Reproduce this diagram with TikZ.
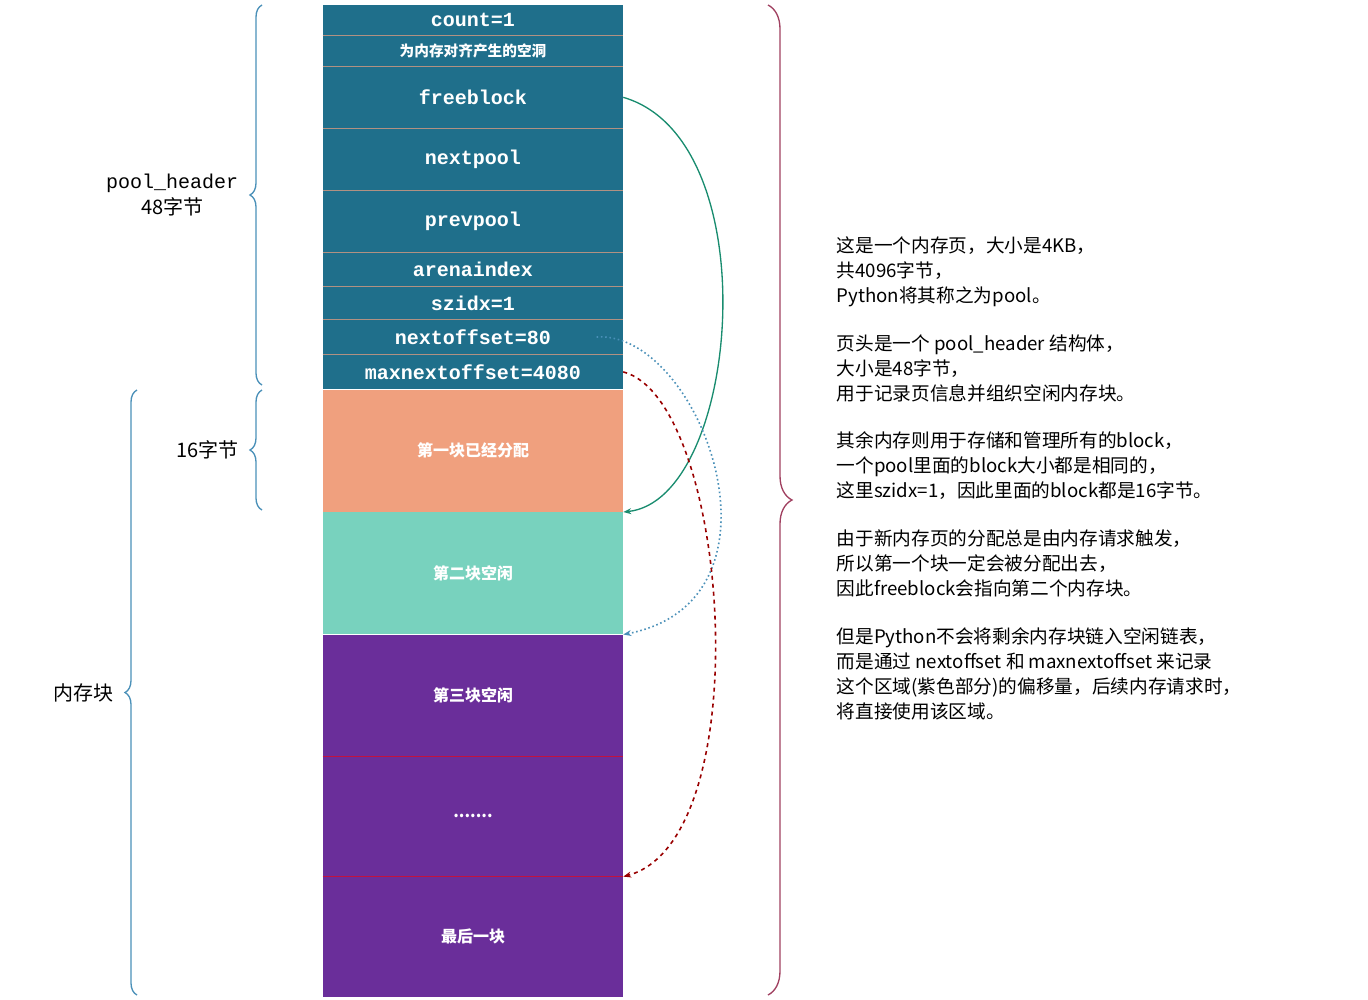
\documentclass[tikz,border=0pt]{standalone}
\usepackage{fontspec}
\setmainfont{Noto Sans CJK SC}
\newfontfamily\cjk{Noto Sans CJK SC}
\newfontfamily\monofont{Liberation Mono}
\usetikzlibrary{arrows.meta,decorations.pathreplacing,positioning}
\definecolor{headblue}{HTML}{1F6F8B}
\definecolor{orangeblk}{HTML}{F0A07E}
\definecolor{greenblk}{HTML}{78D2BE}
\definecolor{purpleblk}{HTML}{6A2E9A}
\definecolor{bracecol}{HTML}{4A90B8}
\definecolor{rightbrace}{HTML}{A04060}
\tikzset{
        field/.style={draw=none, fill=headblue, minimum width=225pt, inner sep=0pt,
                      text=white, font=\monofont\bfseries\fontsize{15}{15}\selectfont},
        blk/.style={draw=none, minimum width=225pt, inner sep=0pt, text=white,
                    font=\cjk\bfseries\fontsize{12}{12}\selectfont},
        brc/.style={decorate, decoration={brace, amplitude=9pt}, draw=bracecol, line width=1pt},
        note/.style={align=left, anchor=north west, font=\cjk\fontsize{14}{18.75}\selectfont},
        lbl/.style={align=center, font=\cjk\fontsize{15}{19}\selectfont},
}
\begin{document}
\begin{tikzpicture}[x=0.75pt, y=-0.75pt]
    \useasboundingbox (0,0) rectangle (1368,1000);
    % page header fields
    \node[field, minimum height=22.5pt, anchor=north] (cnt) at (473,5) {count=1};
    \node[field, minimum height=22.5pt, below=0pt of cnt, font=\cjk\bfseries\fontsize{11}{11}\selectfont] (pad) {为内存对齐产生的空洞};
    \node[field, minimum height=46.5pt, below=0pt of pad] (fb) {freeblock};
    \node[field, minimum height=45.75pt, below=0pt of fb] (np) {nextpool};
    \node[field, minimum height=46.5pt, below=0pt of np] (pp) {prevpool};
    \node[field, minimum height=24.75pt, below=0pt of pp] (ai) {arenaindex};
    \node[field, minimum height=24.75pt, below=0pt of ai] (sz) {szidx=1};
    \node[field, minimum height=25.5pt, below=0pt of sz] (no) {nextoffset=80};
    \node[field, minimum height=26pt, below=0pt of no] (mo) {maxnextoffset=4080};
    % blocks
    \node[blk, fill=orangeblk, minimum height=91.5pt, below=0pt of mo] (b1) {第一块已经分配};
    \node[blk, fill=greenblk, minimum height=91.5pt, below=0pt of b1] (b2) {第二块空闲};
    \node[blk, fill=purpleblk, minimum height=90.75pt, below=0pt of b2] (b3) {第三块空闲};
    \node[blk, fill=purpleblk, minimum height=90pt, below=0pt of b3] (b4) {.......};
    \node[blk, fill=purpleblk, minimum height=90pt, below=0pt of b4] (b5) {最后一块};
    % separators
    \foreach \n in {cnt,pad,fb,np,pp,ai,sz,no}
        \draw[orangeblk!70!headblue, line width=0.6pt] (\n.south west) -- (\n.south east);
    \foreach \n in {b3,b4}
        \draw[red!60!purpleblk, line width=0.8pt] (\n.south west) -- (\n.south east);

    % braces
    \draw[brc] (262,385) -- (262,5) node[midway, left=14pt, lbl] (hdr) {\monofont pool\_header\\48字节};
    \draw[brc] (262,510) -- (262,390) node[midway, left=14pt, lbl] (sixteen) {16字节};
    \draw[brc] (137,995) -- (137,390) node[midway, left=14pt, lbl] (mem) {内存块};
    \draw[brc, draw=rightbrace, decoration={mirror, amplitude=18pt}] (768,995) -- (768,5);

    % pointers
    \draw[headblue!80!green, line width=1pt, -{Stealth[length=6pt]}]
        (fb.east) .. controls (770,140) and (740,500) .. (b2.north east);
    \draw[bracecol, line width=1.2pt, dotted, -{Stealth[length=6pt]}]
        ([xshift=-20pt]no.east) .. controls (700,330) and (800,600) .. (b2.south east);
    \draw[red!60!black, line width=1.2pt, dashed, -{Stealth[length=6pt]}]
        (mo.east) .. controls (730,400) and (760,840) .. (b4.south east);

    % explanation
    \node[note] (txt) at (832,232) {这是一个内存页，大小是4KB，\\共4096字节，\\Python将其称之为pool。\\[17pt]
    页头是一个 pool\_header 结构体，\\大小是48字节，\\用于记录页信息并组织空闲内存块。\\[17pt]
    其余内存则用于存储和管理所有的block，\\一个pool里面的block大小都是相同的，\\这里szidx=1，因此里面的block都是16字节。\\[17pt]
    由于新内存页的分配总是由内存请求触发，\\所以第一个块一定会被分配出去，\\因此freeblock会指向第二个内存块。\\[17pt]
    但是Python不会将剩余内存块链入空闲链表，\\而是通过 nextoffset 和 maxnextoffset 来记录\\这个区域(紫色部分)的偏移量，后续内存请求时，\\将直接使用该区域。};
\end{tikzpicture}
\end{document}
